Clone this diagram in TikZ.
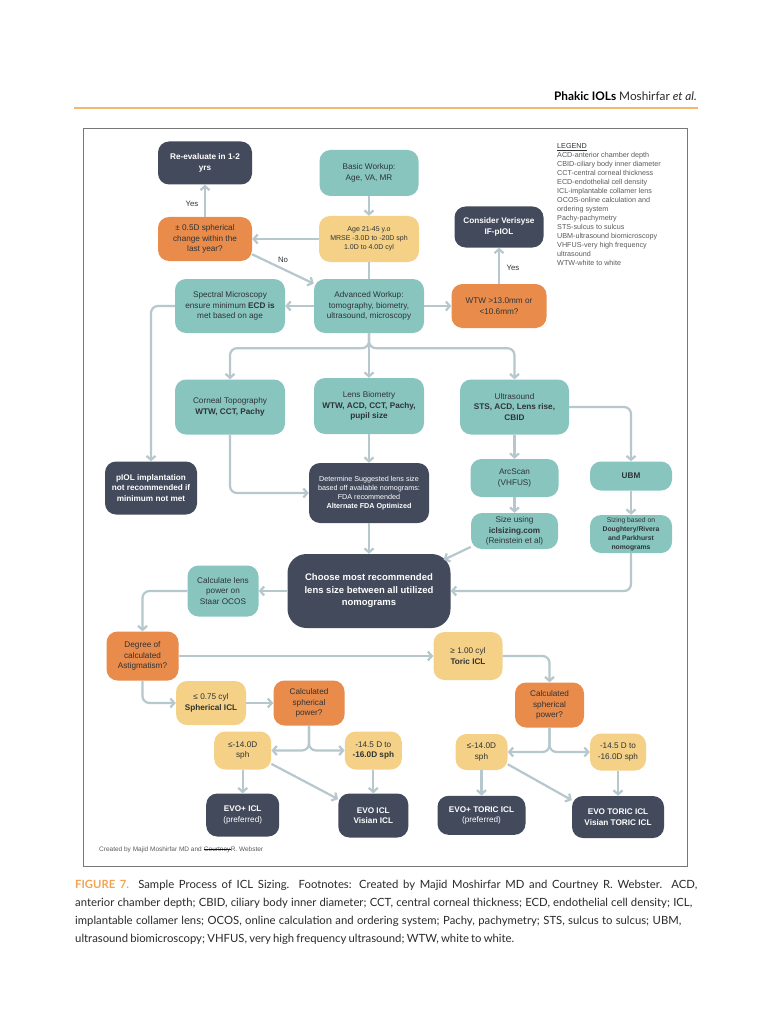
\documentclass[tikz,border=0pt]{standalone}
\usepackage{fontspec}
\setmainfont{Liberation Sans}
\newfontfamily\latofont{Lato}
\usetikzlibrary{arrows.meta,calc}
\definecolor{cDark}{HTML}{434A5B}
\definecolor{cTeal}{HTML}{88C5BF}
\definecolor{cOrange}{HTML}{E98B4B}
\definecolor{cYellow}{HTML}{F4D186}
\definecolor{cLine}{HTML}{B6C7CD}
\definecolor{cTxt}{HTML}{2F3336}
\definecolor{cFrame}{HTML}{777777}
\definecolor{cRule}{HTML}{F5B66E}
\definecolor{cCapOr}{HTML}{F2A455}
\definecolor{cCapTxt}{HTML}{2A2A2A}
\definecolor{cLeg}{HTML}{5A5A5A}
\tikzset{
  nd/.style={rounded corners=11pt, align=center, inner sep=1pt, text=cTxt, font=\fontsize{8.2}{10.6}\selectfont},
  tbox/.style={nd, fill=cTeal},
  obox/.style={nd, fill=cOrange},
  ybox/.style={nd, fill=cYellow},
  dbox/.style={nd, fill=cDark, text=white, font=\fontsize{8.2}{10.6}\selectfont\bfseries},
  wh/.style 2 args={minimum width=#1pt, minimum height=#2pt},
  conn/.style={draw=cLine, line width=2.2pt, rounded corners=7pt},
  arr/.style={conn, -{Straight Barb[length=4pt,width=9pt]}},
  lbl/.style={font=\fontsize{7.8}{9}\selectfont, text=cTxt, inner sep=0pt},
  legtxt/.style={font=\fontsize{7.2}{9}\selectfont, text=cLeg, inner sep=0pt, anchor=base west},
  captxt/.style={font=\latofont\fontsize{11.3}{13}\selectfont, text=cCapTxt, inner sep=0pt, anchor=base west},
  credit/.style={font=\fontsize{6.5}{8}\selectfont, text=cLeg, inner sep=0pt, anchor=base west},
}
\begin{document}
\begin{tikzpicture}[x=1pt,y=-1pt]
\useasboundingbox (0,0) rectangle (768,1024);
\fill[white] (0,0) rectangle (768,1024);

% header
\node[inner sep=0pt, anchor=base east, font=\latofont\fontsize{11.8}{13}\selectfont, text=cCapTxt] (hdr) at (697,101)
  {\textbf{\color{black}Phakic IOLs} Moshirfar \textit{et al.}};
\draw[cRule, line width=2pt] (74,108) -- (698,108);
\draw[cFrame, line width=1.3pt] (83.3,128.3) rectangle (687.5,866.5);

% legend
\node[legtxt, text=cTxt] (leg0) at (557,148.3) {\underline{LEGEND}};
\foreach \t [count=\i] in {ACD-anterior chamber depth, CBID-ciliary body inner diameter, CCT-central corneal thickness, ECD-endothelial cell density, ICL-implantable collamer lens, OCOS-online calculation and, ordering system, Pachy-pachymetry, STS-sulcus to sulcus, UBM-ultrasound biomicroscopy, VHFUS-very high frequency, ultrasound, WTW-white to white}
  \node[legtxt] (leg\i) at (557,148.3+9*\i) {\t};

% nodes
\node[dbox, wh={94}{43}] (reeval) at (205,163) {Re-evaluate in 1-2\\yrs};
\node[tbox, wh={99}{46}] (basic) at (369,173) {Basic Workup:\\Age, VA, MR};
\node[obox, wh={94}{44}] (pm) at (205,239) {± 0.5D spherical\\change within the\\last year?};
\node[ybox, wh={100}{46}, font=\fontsize{7}{9}\selectfont] (age) at (369,239) {Age 21-45 y.o\\MRSE -3.0D to -20D sph\\1.0D to 4.0D cyl};
\node[tbox, wh={110}{54}] (spec) at (230,306) {Spectral Microscopy\\ensure minimum \textbf{ECD is}\\met based on age};
\node[tbox, wh={110}{54}] (adv) at (369,306) {Advanced Workup:\\tomography, biometry,\\ultrasound, microscopy};
\node[obox, wh={95}{44}] (wtw) at (499,306) {WTW >13.0mm or\\<10.6mm?};
\node[dbox, wh={89}{41}] (vers) at (499,227) {Consider Verisyse\\IF-pIOL};
\node[tbox, wh={110}{55}] (corneal) at (230,407) {Corneal Topography\\\textbf{WTW, CCT, Pachy}};
\node[tbox, wh={110}{56}] (lens) at (369,406) {Lens Biometry\\\textbf{WTW, ACD, CCT, Pachy,}\\\textbf{pupil size}};
\node[tbox, wh={109}{55}] (ultra) at (514.5,407) {Ultrasound\\\textbf{STS, ACD, Lens rise,}\\\textbf{CBID}};
\node[dbox, wh={92}{53}] (piol) at (151,488) {pIOL implantation\\not recommended if\\minimum not met};
\node[dbox, wh={120}{60}, font=\fontsize{7.2}{9}\selectfont] (det) at (369,493) {Determine Suggested lens size\\based off available nomograms:\\FDA recommended\\\textbf{Alternate FDA Optimized}};
\node[tbox, wh={88}{38}] (arc) at (514.5,478) {ArcScan\\(VHFUS)};
\node[tbox, wh={82}{29}] (ubm) at (631,476) {\textbf{UBM}};
\node[tbox, wh={87}{36}] (size) at (514.5,531) {Size using\\\textbf{iclsizing.com}\\(Reinstein et al)};
\node[tbox, wh={82}{38}, font=\fontsize{6.8}{9}\selectfont] (sizing) at (631,534) {Sizing based on\\\textbf{Doughtery/Rivera}\\\textbf{and Parkhurst}\\\textbf{nomograms}};
\node[dbox, wh={163}{74}, rounded corners=19pt, font=\fontsize{9.5}{12.5}\selectfont\bfseries] (choose) at (369,591) {Choose most recommended\\lens size between all utilized\\nomograms};
\node[tbox, wh={71}{51}] (calc) at (223,591) {Calculate lens\\power on\\Staar OCOS};
\node[obox, wh={72}{49}] (degree) at (142.5,656) {Degree of\\calculated\\Astigmatism?};
\node[ybox, wh={69}{48}] (toric) at (468,656) {≥ 1.00 cyl\\\textbf{Toric ICL}};
\node[ybox, wh={70}{44}] (sph) at (211,703) {≤ 0.75 cyl\\\textbf{Spherical ICL}};
\node[obox, wh={71}{45}] (calcA) at (309,703) {Calculated\\spherical\\power?};
\node[ybox, wh={57}{38}] (lowA) at (242.7,750.5) {≤-14.0D\\sph};
\node[ybox, wh={57}{38}] (midA) at (373.3,750.5) {-14.5 D to\\\textbf{-16.0D sph}};
\node[dbox, wh={73}{43}] (evopA) at (242.7,815) {EVO+ ICL\\\textmd{(preferred)}};
\node[dbox, wh={70}{44}] (evoA) at (373.3,815.5) {EVO ICL\\Visian ICL};
\node[obox, wh={69}{45}] (calcB) at (549.5,705) {Calculated\\spherical\\power?};
\node[ybox, wh={52}{36}] (lowB) at (481.5,752) {≤-14.0D\\sph};
\node[ybox, wh={56}{37}] (midB) at (618,752) {-14.5 D to\\-16.0D sph};
\node[dbox, wh={88}{39}] (evopB) at (481.5,815.3) {EVO+ TORIC ICL\\\textmd{(preferred)}};
\node[dbox, wh={92}{42}] (evoB) at (618,817) {EVO TORIC ICL\\Visian TORIC ICL};

% connectors
\draw[arr] (basic) -- (age);
\draw[arr] (age) -- (pm);
\draw[arr] (pm) -- (reeval);
\node[lbl] (yes1) at (192,204) {Yes};
\draw[arr] (pm.-18) -- (adv.158);
\node[lbl] (no1) at (283,260) {No};
\draw[conn] (age) -- (adv);
\draw[arr] (adv) -- (spec);
\draw[arr] (adv) -- (wtw);
\draw[arr] (wtw) -- (vers);
\node[lbl] (yes2) at (513,268) {Yes};
\draw[arr] (spec.west) -| (piol.north);
\draw[arr] (adv.south) -- ++(0,15) -| (corneal.north);
\draw[arr] (adv.south) -- ++(0,15) -| (ultra.north);
\draw[arr] (adv) -- (lens);
\draw[arr] (corneal.south) |- (det.west);
\draw[arr] (lens) -- (det);
\draw[arr] (ultra) -- (arc);
\draw[arr] (ultra.east) -| (ubm.north);
\draw[arr] (arc) -- (size);
\draw[arr] (ubm) -- (sizing);
\draw[arr] (size.200) -- ($(choose.north east)+(-7,6)$);
\draw[arr] (sizing.south) |- (choose.east);
\draw[arr] (det) -- (choose);
\draw[arr] (choose) -- (calc);
\draw[arr] (calc.west) -| (degree.north);
\draw[arr] (degree) -- (toric);
\draw[arr] (degree.south) |- (sph.west);
\draw[arr] (sph) -- (calcA);
\draw[arr] (calcA.south) |- (lowA.east);
\draw[arr] (calcA.south) |- (midA.west);
\draw[arr] (lowA) -- (evopA);
\draw[arr] (lowA.-25) -- (evoA.155);
\draw[arr] (midA) -- (evoA);
\draw[arr] (toric.east) -| (calcB.north);
\draw[arr] (calcB.south) |- (lowB.east);
\draw[arr] (calcB.south) |- (midB.west);
\draw[arr] (lowB) -- (evopB);
\draw[arr] (lowB.-25) -- (evoB.160);
\draw[arr] (midB) -- (evoB);

% credit
\node[credit] (cr1) at (99,851.5) {Created by Majid Moshirfar MD and};
\node[credit, xshift=1.8pt] (cr2) at (cr1.base east) {Courtney};
\draw[blue!70!black, line width=0.5pt] ([yshift=2.2pt]cr2.base west) -- ([yshift=2.2pt]cr2.base east);
\node[credit] (cr3) at (cr2.base east) {R. Webster};

% caption
\node[captxt] (cap1) at (75,888) {\makebox[622pt][s]{\textcolor{cCapOr}{\bfseries FIGURE 7.} Sample Process of ICL Sizing. Footnotes: Created by Majid Moshirfar MD and Courtney R. Webster. ACD,}};
\node[captxt] (cap2) at (75,906) {\makebox[617pt][s]{anterior chamber depth; CBID, ciliary body inner diameter; CCT, central corneal thickness; ECD, endothelial cell density; ICL,}};
\node[captxt] (cap3) at (75,924) {\makebox[606pt][s]{implantable collamer lens; OCOS, online calculation and ordering system; Pachy, pachymetry; STS, sulcus to sulcus; UBM,}};
\node[captxt] (cap4) at (75,942) {\makebox[439pt][s]{ultrasound biomicroscopy; VHFUS, very high frequency ultrasound; WTW, white to white.}};
\end{tikzpicture}
\end{document}
